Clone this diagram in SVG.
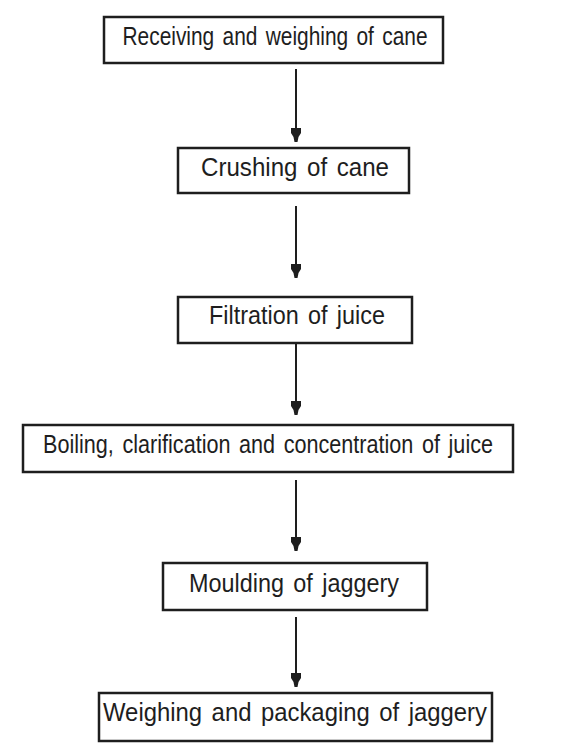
<svg xmlns="http://www.w3.org/2000/svg" width="577" height="744" viewBox="0 0 577 744">
<defs>
<style>
.box{fill:#fff;stroke:#1e1e1e;stroke-width:2.5}
.lbl{font-family:"Liberation Sans",Arial,sans-serif;font-size:25px;word-spacing:3px;fill:#1e1e1e;text-anchor:middle}
.con{stroke:#1e1e1e;stroke-width:2;fill:none}
.head{fill:#1e1e1e}
</style>
<path id="ah" d="M-5,-14 L5,-14 L5,-9 L2.5,-5 L1.5,0 L-1.5,0 L-2.5,-5 L-5,-9 Z"/>
</defs>
<rect width="577" height="744" fill="#fff"/>
<g id="connectors">
<line class="con" x1="296" y1="69" x2="296" y2="132"/><use href="#ah" class="head" x="296" y="142"/>
<line class="con" x1="296" y1="206" x2="296" y2="268"/><use href="#ah" class="head" x="296" y="278"/>
<line class="con" x1="296" y1="343" x2="296" y2="405"/><use href="#ah" class="head" x="296" y="415"/>
<line class="con" x1="296" y1="480" x2="296" y2="541"/><use href="#ah" class="head" x="296" y="551"/>
<line class="con" x1="296" y1="617" x2="296" y2="677"/><use href="#ah" class="head" x="296" y="687"/>
</g>
<g id="n1"><rect class="box" x="104" y="17" width="339" height="46"/><text class="lbl" x="275" y="45" textLength="305" lengthAdjust="spacingAndGlyphs">Receiving and weighing of cane</text></g>
<g id="n2"><rect class="box" x="178" y="148" width="231" height="45"/><text class="lbl" x="295" y="176" textLength="188" lengthAdjust="spacingAndGlyphs">Crushing of cane</text></g>
<g id="n3"><rect class="box" x="178" y="297" width="234" height="46"/><text class="lbl" x="297" y="324" textLength="176" lengthAdjust="spacingAndGlyphs">Filtration of juice</text></g>
<g id="n4"><rect class="box" x="23" y="425" width="490" height="47"/><text class="lbl" x="268" y="453" textLength="450" lengthAdjust="spacingAndGlyphs">Boiling, clarification and concentration of juice</text></g>
<g id="n5"><rect class="box" x="163" y="563" width="264" height="47"/><text class="lbl" x="294" y="592" textLength="210" lengthAdjust="spacingAndGlyphs">Moulding of jaggery</text></g>
<g id="n6"><rect class="box" x="99" y="693" width="393" height="48"/><text class="lbl" x="295" y="721" textLength="384" lengthAdjust="spacingAndGlyphs">Weighing and packaging of jaggery</text></g>
</svg>
